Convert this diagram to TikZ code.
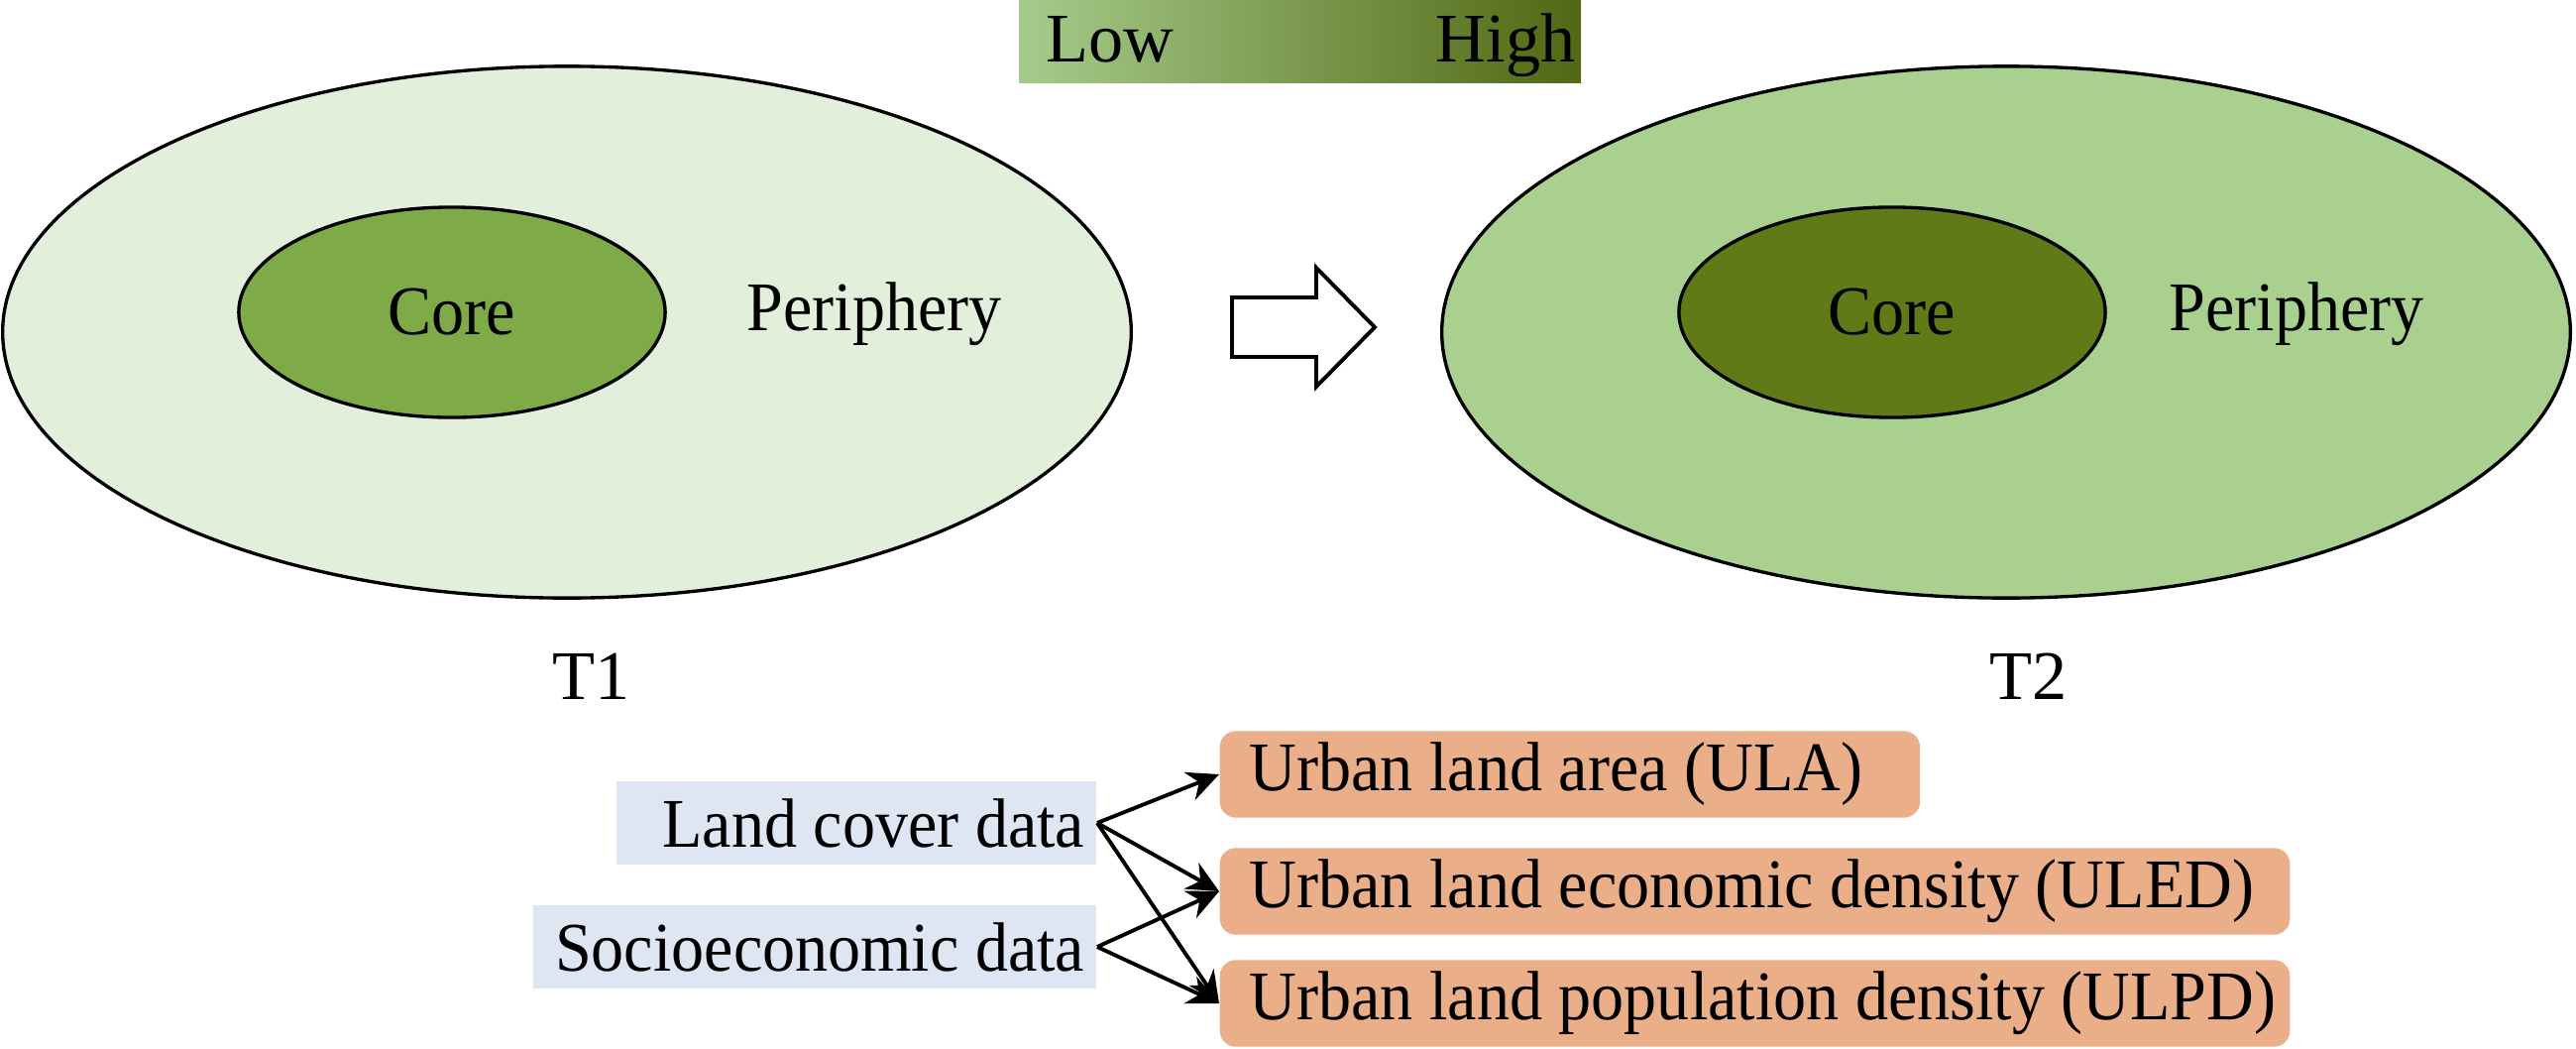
\documentclass[tikz,border=0pt]{standalone}
\usepackage{fontspec}
\setmainfont{Liberation Serif}
\newfontfamily\narrowfont[FakeStretch=0.94]{Liberation Serif}
\usetikzlibrary{arrows.meta,shapes.geometric}

\definecolor{perilow}{HTML}{E2EFDA}
\definecolor{perihigh}{HTML}{A9D08E}
\definecolor{corelow}{HTML}{7EAB47}
\definecolor{corehigh}{HTML}{5F7A17}
\definecolor{databg}{HTML}{DEE6F4}
\definecolor{indbg}{HTML}{EAAF89}

\begin{document}
\begin{tikzpicture}[
	% pixel grid, y pointing down
	x={(0.01cm,0cm)},
	y={(0cm,-0.01cm)},
	font=\fontsize{20}{24}\selectfont,
	narrow/.style={font=\fontsize{20}{24}\narrowfont},
	outer/.style={ellipse,draw,line width=0.95pt,minimum width=11.38cm,minimum height=5.36cm,inner sep=0pt},
	inner/.style={ellipse,draw,line width=0.95pt,minimum width=4.30cm,minimum height=2.12cm,inner sep=0pt,narrow},
	databox/.style={fill=databg,minimum height=0.83cm,inner xsep=0.12cm,anchor=east,narrow},
	indbox/.style={fill=indbg,rounded corners=0.16cm,minimum height=0.85cm,inner xsep=0.3cm,anchor=west,narrow},
	link/.style={-{Stealth[length=0.32cm,width=0.3cm]},line width=1.1pt}
	]
	\useasboundingbox (0,0) rectangle (2599,1057);

	%
	% Legend bar
	%
	\shade[left color=perihigh!90!black!20!perihigh,middle color=corelow!85!perihigh,right color=corehigh!85!black] (1028,0) rectangle (1595,83);
	\node[anchor=base] (low) at (1120,62) {Low};
	\node[anchor=base] (high) at (1519,62) {High};

	%
	% T1
	%
	\node[outer,fill=perilow] (outerL) at (572,335) {};
	\node[inner,fill=corelow] (coreL) at (456,315) {Core};
	\node[narrow] (periL) at (882,317) {Periphery};
	\node (tL) at (597,682) {T1};

	% hollow arrow
	\draw[line width=1.1pt,fill=white] (1243,300) -- (1328,300) -- (1328,270) -- (1387,330)
		-- (1328,390) -- (1328,360) -- (1243,360) -- cycle;

	%
	% T2
	%
	\node[outer,fill=perihigh] (outerR) at (2024,335) {};
	\node[inner,fill=corehigh] (coreR) at (1909,315) {Core};
	\node[narrow] (periR) at (2317,317) {Periphery};
	\node (tR) at (2047,682) {T2};

	%
	% Data and indicators
	%
	\node[databox] (land) at (1107,830) {\makebox[4.60cm][r]{Land cover data}};
	\node[databox] (socio) at (1107,955) {\makebox[5.44cm][r]{Socioeconomic data}};

	\node[indbox] (ula) at (1230,781) {\makebox[6.46cm][l]{Urban land area (ULA)}};
	\node[indbox] (uled) at (1230,899) {\makebox[10.19cm][l]{Urban land economic density (ULED)}};
	\node[indbox] (ulpd) at (1230,1012) {\makebox[10.19cm][l]{Urban land population density (ULPD)}};

	\draw[link] (land.east) -- (ula.west);
	\draw[link] (land.east) -- (uled.west);
	\draw[link] (land.east) -- (ulpd.west);
	\draw[link] (socio.east) -- (uled.west);
	\draw[link] (socio.east) -- (ulpd.west);
\end{tikzpicture}
\end{document}
